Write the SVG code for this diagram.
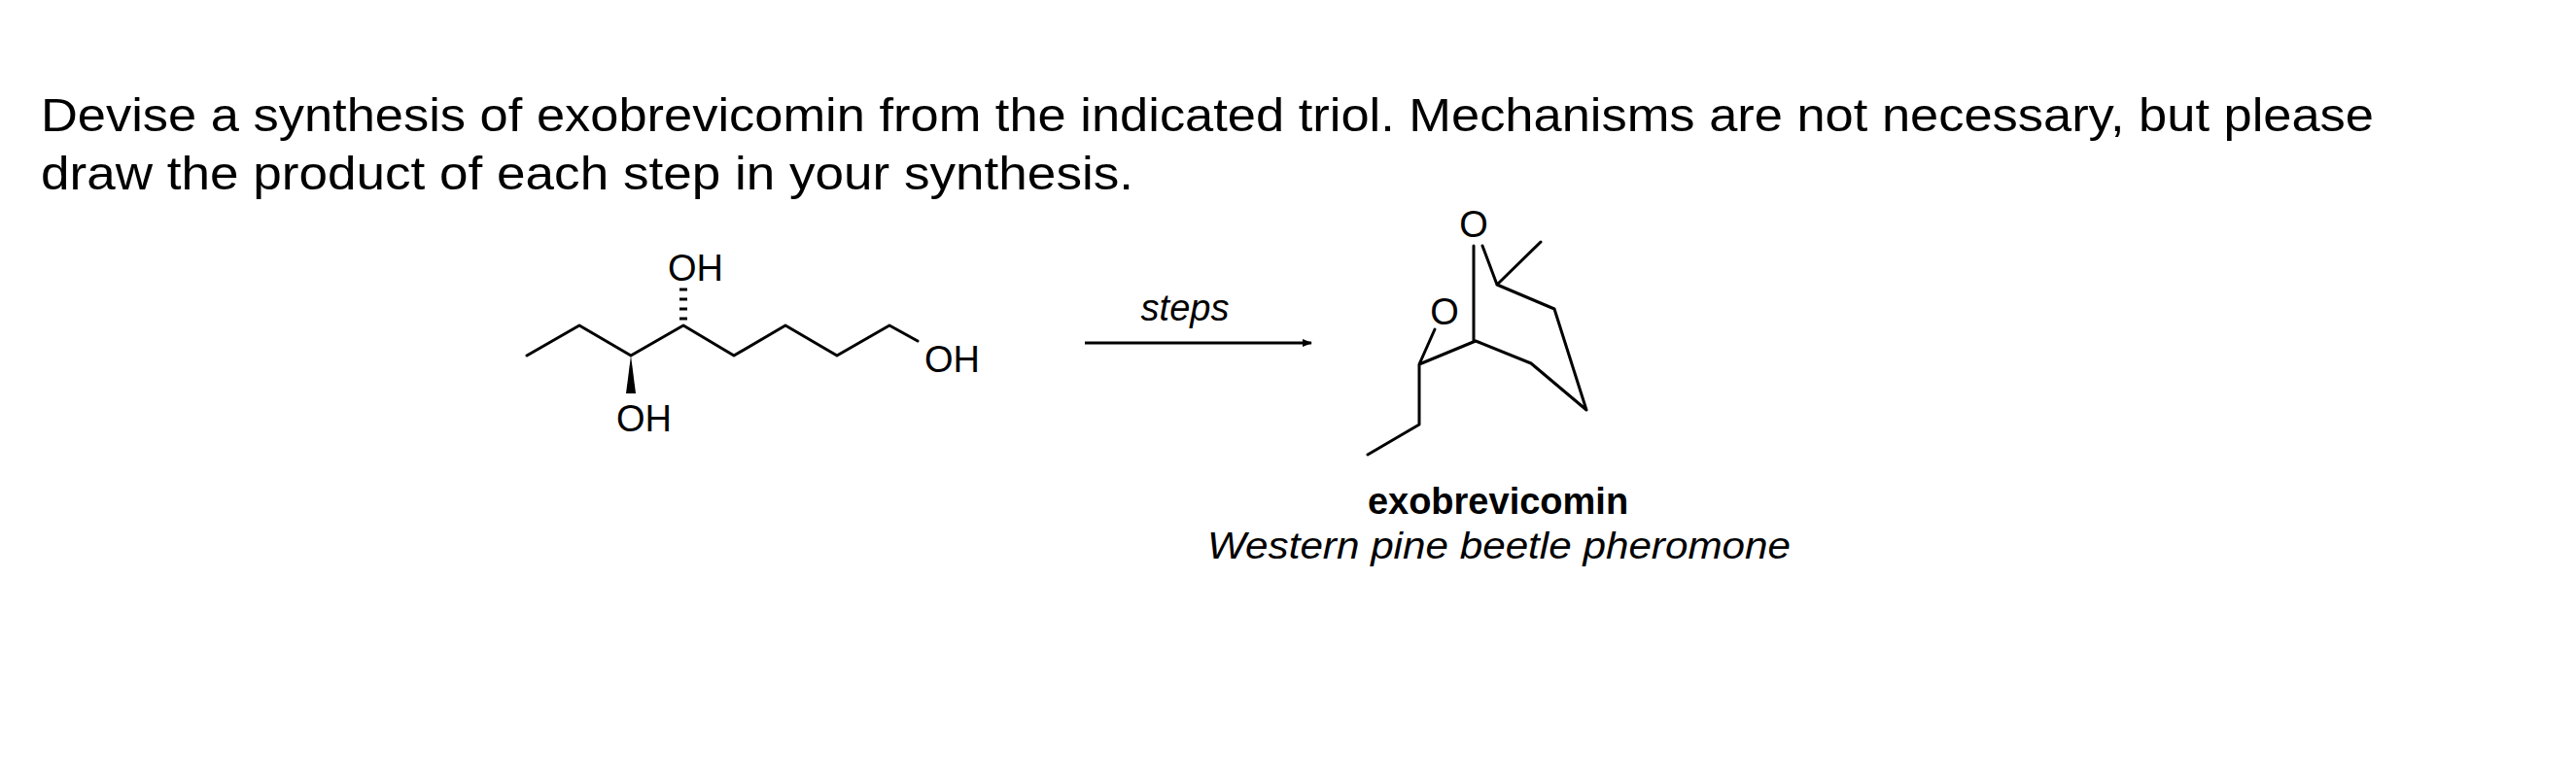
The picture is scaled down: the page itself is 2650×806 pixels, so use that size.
<svg xmlns="http://www.w3.org/2000/svg" width="2650" height="806" viewBox="0 0 2650 806">
<style>
text{font-family:"Liberation Sans",Arial,sans-serif;fill:#000}
.t{font-size:49px}
.a{font-size:38px}
.b{stroke:#000;stroke-width:3;fill:none;stroke-linecap:round;stroke-linejoin:round}
</style>
<defs><marker id="ah" markerWidth="10" markerHeight="8" refX="9" refY="4" orient="auto" markerUnits="userSpaceOnUse"><path d="M0,0 L10,4 L0,8 z" fill="#000"/></marker></defs>
<rect width="2650" height="806" fill="#fff"/>
<text class="t" x="42" y="135" textLength="2400" lengthAdjust="spacingAndGlyphs">Devise a synthesis of exobrevicomin from the indicated triol. Mechanisms are not necessary, but please</text>
<text class="t" x="42" y="195" textLength="1124" lengthAdjust="spacingAndGlyphs">draw the product of each step in your synthesis.</text>
<g id="triol">
<polyline class="b" points="542,366 596,335 649,366 703,335 755,366 808,335 861,366 915,335 944,351"/>
<polygon points="649,366 644,405 654,405" fill="#000"/>
<g stroke="#000" stroke-width="3"><line x1="699" y1="328" x2="707" y2="328"/><line x1="699" y1="318" x2="707" y2="318"/><line x1="699" y1="308" x2="707" y2="308"/><line x1="699" y1="298" x2="707" y2="298"/></g>
<text class="a" x="687" y="289">OH</text>
<text class="a" x="634" y="444">OH</text>
<text class="a" x="951" y="383">OH</text>
</g>
<g id="connectors">
<line x1="1116" y1="353" x2="1349" y2="353" stroke="#000" stroke-width="3" marker-end="url(#ah)"/>
<text class="a" x="1219" y="330" text-anchor="middle" font-style="italic">steps</text>
</g>
<g id="exobrevicomin">
<text class="a" x="1516" y="244" text-anchor="middle">O</text>
<text class="a" x="1486" y="334" text-anchor="middle">O</text>
<path class="b" d="M1516,253 L1516,351 M1525,253 L1540,293 L1585,249 M1540,293 L1599,318 L1632,422 L1575,374 L1518,351 L1460,375 L1476,339 M1460,375 L1460,437 L1407,468"/>
<text x="1541" y="529" text-anchor="middle" font-size="38" font-weight="bold">exobrevicomin</text>
<text x="1542" y="575" text-anchor="middle" font-size="38" font-style="italic" textLength="600" lengthAdjust="spacingAndGlyphs">Western pine beetle pheromone</text>
</g>
</svg>
